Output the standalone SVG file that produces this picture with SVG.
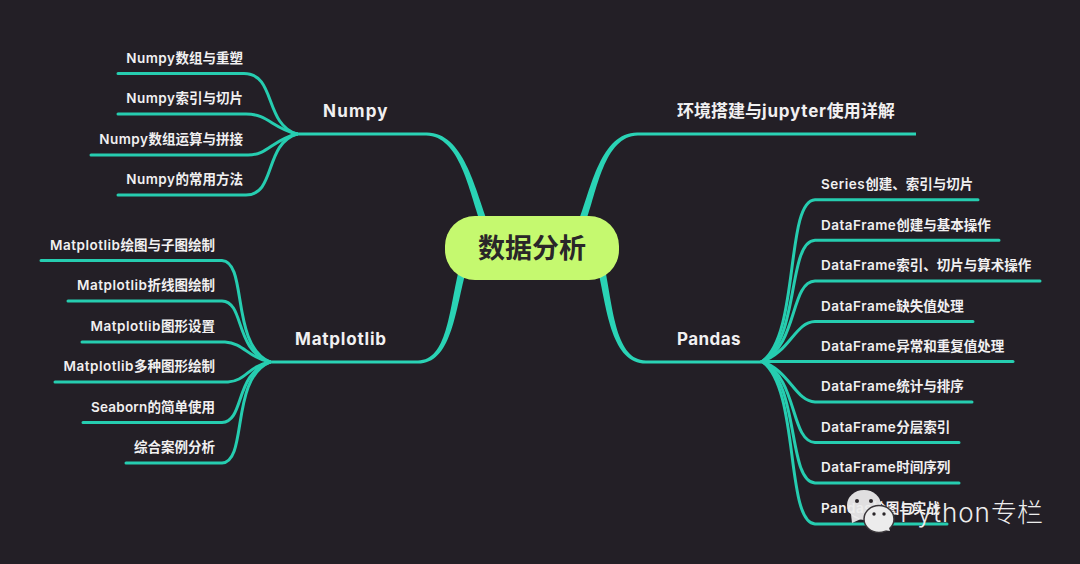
<svg xmlns="http://www.w3.org/2000/svg" width="1080" height="564" viewBox="0 0 1080 564">
<style>
text{font-family:"Inter","Noto Sans CJK SC",sans-serif;font-weight:600;fill:#f1f0f1;font-size:13.5px}
.l{letter-spacing:.5px}
.s{letter-spacing:.2px}
.m{font-size:17px;font-weight:700}
.m .l{letter-spacing:.8px}
.m .n{letter-spacing:1.2px}
.m .p{letter-spacing:.45px}
.e{text-anchor:end}
.c{font-size:27px;font-weight:700;fill:#2a2629;text-anchor:middle;font-family:"Noto Sans CJK SC",sans-serif}
.b{fill:none;stroke:#26cdb0;stroke-width:3;stroke-linecap:round}
.t{fill:#2ad3b5}
text.w{font-weight:300;font-size:26px;fill:#ededed}
.w .l{letter-spacing:1px}
.u{fill:#ececec;opacity:.94}
.d{fill:#2a2629}
</style>
<rect width="1080" height="564" fill="#231f26"/>
<g id="connectors">
<path class="t" d="M487.300,220.800C475,188.500 463,131.500 426,132.500L297,132.500V135.500H426C460,136 469,191.500 480.700,223.200Z"/>
<path class="t" d="M578.700,220.800C591,188.500 601,131.500 638,132.500H916V135.500H638C604,136 597,191.500 585.300,223.200Z"/>
<path class="t" d="M458.600,271.100C449,311 447,360.500 418,360.500L270,360.500V363.500H418C451,363.500 455,313 465.400,272.900Z"/>
<path class="t" d="M605.400,271.100C613,309 616,360.500 646,360.500H762V363.500H646C612,363.500 607,311 598.600,272.900Z"/>
<path class="b" d="M118,73.500H244C276,73.500 264,124 297,134"/>
<path class="b" d="M118,114H246C268,114 272,128 297,134"/>
<path class="b" d="M91,155H248C268,155 272,140 297,134"/>
<path class="b" d="M118,195H246C276,195 264,144 297,134"/>
<path class="b" d="M41,260.500H222C248,262 230,345 270,362"/>
<path class="b" d="M68,301H222C245,302 234,350 270,362"/>
<path class="b" d="M82,342H225C244,343 248,358 270,362"/>
<path class="b" d="M55,382H228C246,381 248,366 270,362"/>
<path class="b" d="M83,422.500H222C245,421 234,374 270,362"/>
<path class="b" d="M126,463H222C248,462 230,378 270,362"/>
<path class="b" d="M978,199.700H815C785,201 800,335 762,361.500"/>
<path class="b" d="M999,240.300H815C787,242 800,340 762,361.500"/>
<path class="b" d="M1040,281H815C790,282 798,345 762,361.500"/>
<path class="b" d="M973,321.500H815C795,322 790,352 762,361.500"/>
<path class="b" d="M1013,361.500H762"/>
<path class="b" d="M972,402H815C795,401 790,371 762,361.500"/>
<path class="b" d="M959,442.500H815C790,441 798,378 762,361.500"/>
<path class="b" d="M959,483H815C787,481 800,383 762,361.500"/>
<path class="b" d="M947,524H815C785,522 800,388 762,361.500"/>
</g>
<g id="center"><rect x="445" y="216" width="174" height="64" rx="30" fill="#c5f96f"/><text class="c" x="532" y="258">数据分析</text></g>
<g id="numpy"><text class="m" x="323" y="117"><tspan class="n">Numpy</tspan></text></g>
<g id="matplotlib"><text class="m" x="295" y="345"><tspan class="l">Matplotlib</tspan></text></g>
<g id="env"><text class="m" x="677" y="117">环境搭建与<tspan class="l">jupyter</tspan>使用详解</text></g>
<g id="pandas"><text class="m" x="677" y="345"><tspan class="p">Pandas</tspan></text></g>
<g id="n1"><text class="e" x="243" y="62.500"><tspan class="l">Numpy</tspan>数组与重塑</text></g>
<g id="n2"><text class="e" x="243" y="103"><tspan class="l">Numpy</tspan>索引与切片</text></g>
<g id="n3"><text class="e" x="243" y="143.500"><tspan class="l">Numpy</tspan>数组运算与拼接</text></g>
<g id="n4"><text class="e" x="243" y="184"><tspan class="l">Numpy</tspan>的常用方法</text></g>
<g id="m1"><text class="e" x="215" y="249.500"><tspan class="l">Matplotlib</tspan>绘图与子图绘制</text></g>
<g id="m2"><text class="e" x="215" y="290"><tspan class="l">Matplotlib</tspan>折线图绘制</text></g>
<g id="m3"><text class="e" x="215" y="330.500"><tspan class="l">Matplotlib</tspan>图形设置</text></g>
<g id="m4"><text class="e" x="215" y="371"><tspan class="l">Matplotlib</tspan>多种图形绘制</text></g>
<g id="m5"><text class="e" x="215" y="411.500"><tspan class="s">Seaborn</tspan>的简单使用</text></g>
<g id="m6"><text class="e" x="215" y="452">综合案例分析</text></g>
<g id="p1"><text x="821" y="189"><tspan class="l">Series</tspan>创建、索引与切片</text></g>
<g id="p2"><text x="821" y="229.500"><tspan class="l">DataFrame</tspan>创建与基本操作</text></g>
<g id="p3"><text x="821" y="270"><tspan class="l">DataFrame</tspan>索引、切片与算术操作</text></g>
<g id="p4"><text x="821" y="310.500"><tspan class="l">DataFrame</tspan>缺失值处理</text></g>
<g id="p5"><text x="821" y="350.500"><tspan class="l">DataFrame</tspan>异常和重复值处理</text></g>
<g id="p6"><text x="821" y="391"><tspan class="l">DataFrame</tspan>统计与排序</text></g>
<g id="p7"><text x="821" y="431.500"><tspan class="l">DataFrame</tspan>分层索引</text></g>
<g id="p8"><text x="821" y="472"><tspan class="l">DataFrame</tspan>时间序列</text></g>
<g id="p9"><text x="821" y="512.500"><tspan class="l">Pandas</tspan>绘图与实战</text></g>
<g id="watermark">
<ellipse class="u" cx="864" cy="505" rx="17" ry="15"/>
<path class="u" d="M851,514L852,523L861,519Z"/>
<circle class="d" cx="857" cy="501" r="2"/><circle class="d" cx="871" cy="501" r="2"/>
<ellipse cx="879" cy="519" rx="15" ry="13.500" fill="#ececec" stroke="#3a363a" stroke-width="1.500"/>
<path d="M884,530L890,531L888,525Z" fill="#ececec"/>
<circle class="d" cx="874" cy="514" r="1.700"/><circle class="d" cx="884" cy="514" r="1.700"/>
<text class="w" x="900" y="522"><tspan class="l">Python</tspan>专栏</text>
</g>
</svg>
